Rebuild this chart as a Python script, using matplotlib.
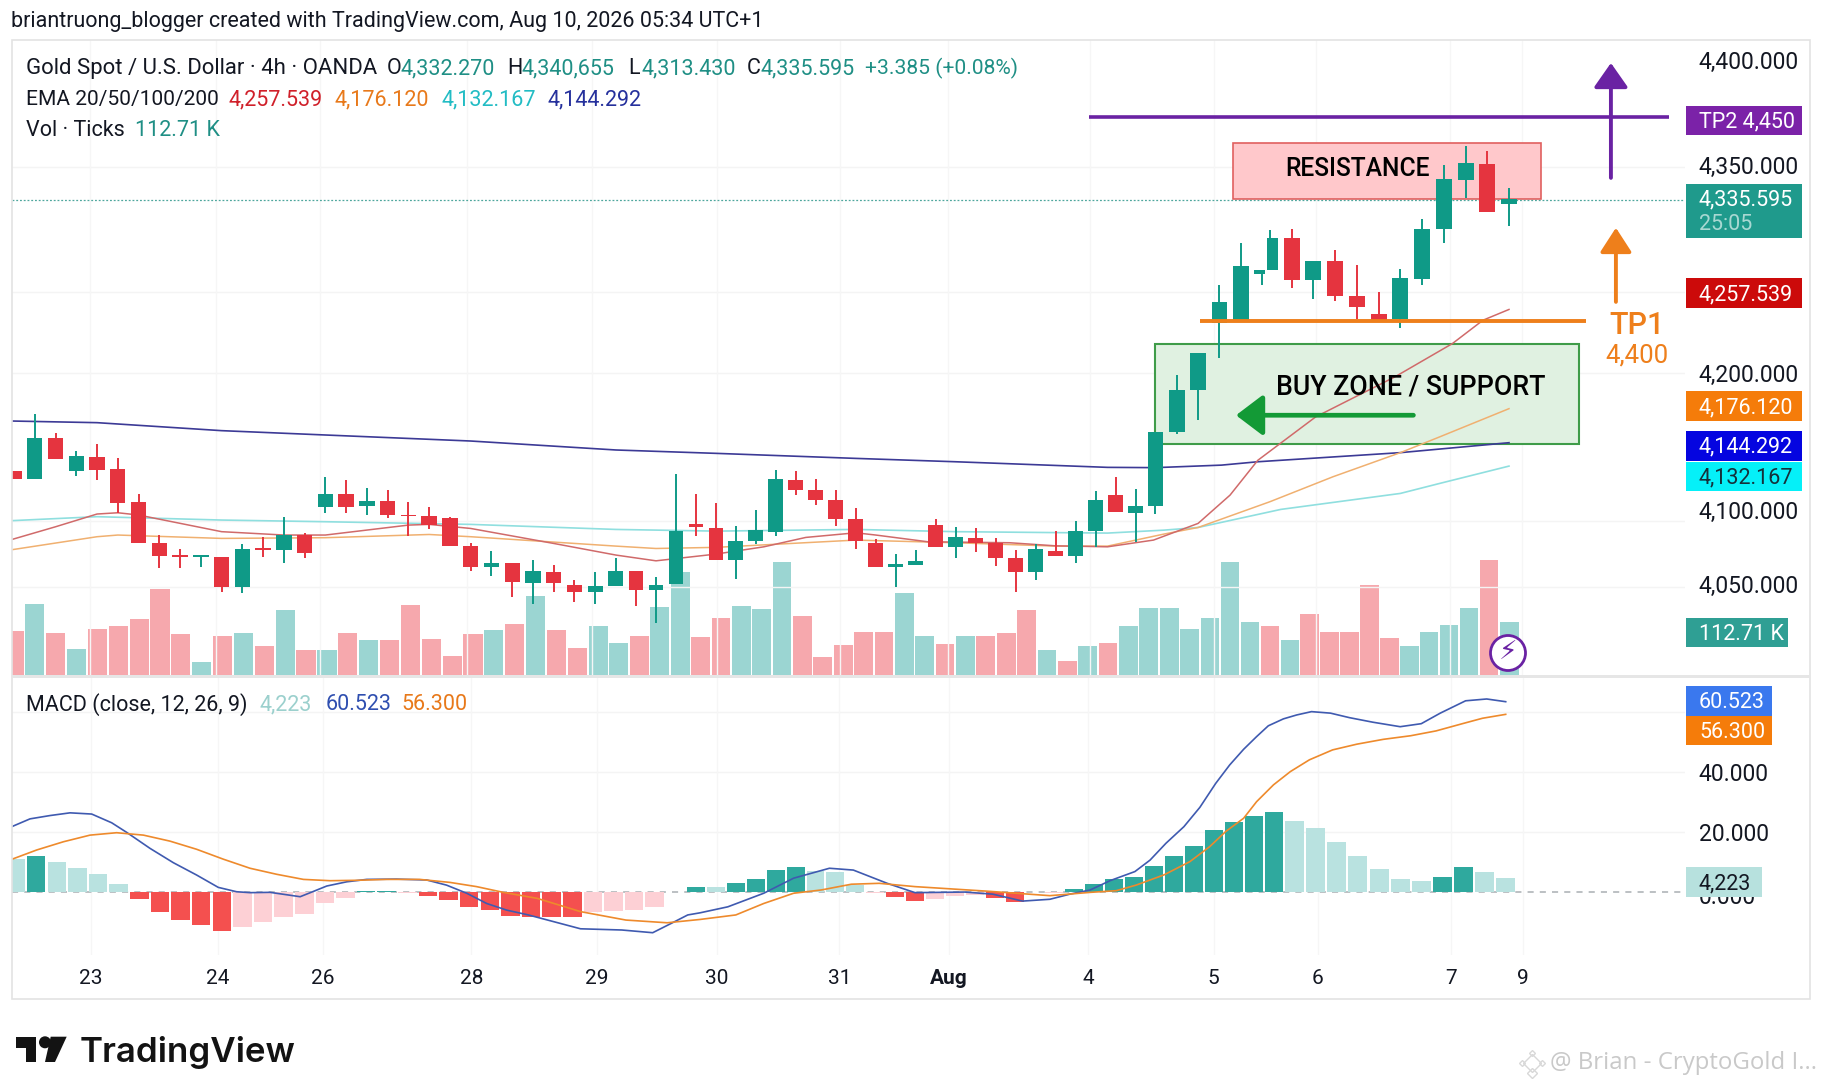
import matplotlib
matplotlib.use('Agg')
import matplotlib.pyplot as plt
import numpy as np
from matplotlib.patches import Rectangle, Polygon, Ellipse

plt.rcParams['font.family'] = ['Roboto', 'DejaVu Sans']

# candles, one row per 4h bar
opens = [4132.8, 4126.8, 4156.4, 4132.5, 4143.0, 4134.0, 4110.4, 4081.6, 4072.3, 4071.6,
         4071.4, 4050.2, 4077.3, 4076.6, 4087.1, 4106.8, 4116.4, 4107.5, 4111.4, 4101.4,
         4100.9, 4099.2, 4079.2, 4064.5, 4066.8, 4053.0, 4060.9, 4051.1, 4046.6, 4050.9,
         4061.1, 4047.8, 4052.3, 4094.7, 4092.1, 4069.0, 4082.5, 4089.5, 4126.4, 4119.2,
         4112.3, 4098.5, 4081.6, 4064.5, 4065.9, 4094.5, 4078.5, 4084.9, 4081.4, 4070.6,
         4060.4, 4075.4, 4072.3, 4089.7, 4115.6, 4102.5, 4107.5, 4160.7, 4190.4, 4238.5,
         4240.9, 4273.1, 4276.6, 4299.0, 4269.0, 4282.6, 4257.6, 4244.7, 4241.2, 4269.7,
         4305.7, 4340.4, 4352.1, 4323.3]
highs = [4132.8, 4173.3, 4159.7, 4147.3, 4152.1, 4142.1, 4116.1, 4087.1, 4076.8, 4072.1,
         4071.4, 4080.4, 4085.4, 4100.2, 4088.7, 4128.3, 4126.1, 4120.4, 4119.2, 4110.6,
         4106.8, 4099.7, 4081.1, 4075.9, 4067.5, 4069.2, 4065.4, 4054.9, 4060.6, 4070.4,
         4061.1, 4056.8, 4130.4, 4116.6, 4109.7, 4093.5, 4104.7, 4133.5, 4132.8, 4126.8,
         4119.0, 4106.1, 4084.0, 4073.7, 4076.6, 4098.3, 4093.0, 4092.3, 4085.2, 4076.1,
         4080.6, 4090.2, 4097.1, 4118.3, 4128.7, 4119.9, 4160.9, 4201.2, 4217.3, 4265.9,
         4295.2, 4275.9, 4304.7, 4305.2, 4282.8, 4290.2, 4279.5, 4260.7, 4276.9, 4312.3,
         4351.2, 4365.0, 4360.9, 4334.5]
lows = [4126.8, 4126.8, 4141.4, 4129.5, 4126.4, 4102.5, 4081.4, 4063.3, 4063.7, 4064.5,
        4046.8, 4045.9, 4071.6, 4067.3, 4070.6, 4102.5, 4102.5, 4101.6, 4099.2, 4086.4,
        4091.4, 4079.2, 4061.6, 4057.8, 4043.0, 4037.8, 4046.1, 4039.5, 4037.8, 4050.9,
        4036.6, 4024.5, 4052.3, 4086.1, 4069.2, 4055.9, 4080.6, 4086.6, 4115.6, 4108.3,
        4093.7, 4077.3, 4064.2, 4050.2, 4065.9, 4078.7, 4070.6, 4075.2, 4065.2, 4046.1,
        4055.2, 4072.1, 4067.5, 4078.7, 4103.3, 4082.3, 4101.8, 4159.0, 4169.0, 4213.1,
        4240.9, 4265.4, 4276.6, 4263.1, 4255.4, 4254.2, 4241.2, 4240.4, 4235.2, 4265.4,
        4295.7, 4327.3, 4317.8, 4307.8]
closes = [4126.8, 4156.4, 4141.4, 4143.5, 4133.7, 4110.2, 4081.4, 4072.1, 4071.6, 4072.1,
          4050.2, 4077.3, 4076.6, 4087.1, 4074.5, 4116.6, 4107.3, 4111.6, 4101.6, 4100.4,
          4094.5, 4079.2, 4064.5, 4067.3, 4053.5, 4061.1, 4052.8, 4046.6, 4050.9, 4061.4,
          4047.8, 4051.6, 4090.2, 4092.5, 4069.2, 4082.8, 4090.4, 4126.8, 4119.2, 4112.1,
          4098.7, 4083.0, 4064.2, 4066.4, 4068.3, 4078.7, 4085.6, 4081.1, 4070.6, 4060.6,
          4076.8, 4072.1, 4089.9, 4111.8, 4103.3, 4107.8, 4160.9, 4190.4, 4217.3, 4253.5,
          4279.2, 4275.9, 4299.0, 4269.0, 4282.8, 4257.8, 4249.7, 4240.4, 4270.2, 4305.7,
          4341.2, 4352.3, 4317.8, 4326.6]

volume = [94, 152, 90, 57, 99, 106, 119, 183, 88, 30, 85, 90, 64, 139, 55, 55, 90, 75, 76, 150,
          77, 43, 89, 97, 110, 168, 97, 58, 105, 70, 83, 145, 219, 82, 122, 146, 140, 239, 125, 40,
          66, 93, 93, 175, 83, 67, 83, 83, 90, 139, 55, 32, 64, 70, 104, 142, 142, 98, 121, 239,
          114, 104, 76, 130, 93, 93, 192, 80, 62, 92, 108, 143, 243, 112.71]
# 1 = teal volume bar, 0 = pink volume bar
vol_up = [0, 1, 0, 1, 0, 0, 0, 0, 0, 1, 0, 1, 0, 1, 0, 1, 0, 1, 0, 0,
          0, 0, 0, 1, 0, 1, 0, 0, 1, 1, 0, 1, 1, 0, 0, 1, 1, 1, 0, 0,
          0, 0, 0, 1, 1, 0, 1, 0, 0, 0, 1, 0, 1, 0, 1, 1, 1, 1, 1, 1,
          1, 0, 1, 0, 0, 0, 0, 0, 1, 1, 1, 1, 0, 1]

ema20_x = [-0.2, 2, 4, 5, 6, 10, 13, 15, 19, 20, 22, 26, 29, 31, 34, 36.4, 38.5, 41, 42, 44.6, 48.7,
           51, 53.6, 55.9, 58, 59.5, 60.8, 64.1, 67.75, 70.4, 71.8, 73]
ema20 = [4083.5, 4093, 4102.1, 4103, 4101.4, 4089.5, 4087.1, 4087.1, 4094.2, 4094.7, 4091.8, 4081.1,
         4072.8, 4068.7, 4073.5, 4078.7, 4085.4, 4088.7, 4087.1, 4082.3, 4081.6, 4079.4, 4078.7,
         4083.5, 4095.4, 4115.6, 4140.4, 4171.4, 4200, 4223.8, 4240.4, 4248.1]
ema50_x = [-0.2, 4, 5, 10, 15, 20, 22, 29, 31, 34, 41, 46, 51, 53.6, 56.4, 58, 62, 64.9, 68, 69.8, 73]
ema50 = [4076.4, 4085.9, 4087.1, 4084.7, 4085.2, 4087.5, 4085.9, 4079.2, 4077.5, 4078.3, 4083.5,
         4081.6, 4079.2, 4079.2, 4087.8, 4092.5, 4110.9, 4128.7, 4145.9, 4157.1, 4177.3]
ema100_x = [-0.2, 4, 10, 15, 22, 29, 34, 41, 46, 53.6, 56.4, 58, 62.5, 68, 69.8, 73]
ema100 = [4097.3, 4100.2, 4097.8, 4096.6, 4094.7, 4091.1, 4089.9, 4091.1, 4089.5, 4088.5,
          4090.6, 4092.5, 4105.4, 4116.8, 4123.9, 4136.3]
ema200_x = [-0.2, 4, 10, 15, 22, 29, 34, 41, 46, 53.6, 56, 59.1, 60.8, 68, 73]
ema200 = [4168.5, 4167.3, 4161.6, 4158.5, 4154.2, 4147.8, 4145.4, 4141.8, 4139.4, 4135.4, 4135.2,
          4137, 4139.4, 4145.9, 4153]

hist = [11.0, 12.1, 10, 8.1, 6.1, 2.8, -2.2, -6.4, -9.2, -10.7, -12.7, -11.4, -9.9, -8.2, -7.2,
        -3.5, -1.8, 0.4, 0.4, -0.1, -1.1, -2.7, -4.8, -6.0, -8.0, -8.1, -8.2, -8.2, -6.5, -6.2,
        -5.8, -4.7, 0.1, 1.9, 1.7, 3.1, 4.5, 7.3, 8.4, 7.0, 6.9, 2.3, -0.1, -1.4, -2.8, -2.3,
        -1.2, -0.9, -2.0, -3.3, 0, -0.1, 1.0, 2.8, 4.4, 5.1, 8.7, 12.1, 15.5, 20.6, 23.4, 25.2,
        26.6, 23.7, 21.2, 16.7, 12.1, 7.9, 4.3, 3.7, 5.1, 8.3, 6.6, 4.8]
hist_dark = ('0' '1' '0000' '11111' '000000' '11' '0' '11111111' '0000' '0' '1' '0' '1111' '000' '0'
             '11' '000' '11' '00' '11111111111' '0000000' '11' '00')

macd_x = [-0.19, 0.7, 1.67, 2.64, 3.69, 4.66, 5.39, 6.52, 7.65, 8.78, 9.83, 10.72, 11.37, 12.34, 13.15,
          13.8, 14.44, 15.09, 16.06, 17.03, 18.48, 19.94, 20.9, 21.88, 22.85, 23.82, 24.87, 27.4, 29.4,
          30.9, 31.8, 32.6, 33.2, 34.6, 36.4, 37.9, 39.7, 40.9, 42.6, 44, 46.5, 47.9, 49.4, 50.77, 51.8,
          52.8, 53.8, 55.04, 55.8, 56.6, 57.5, 58.3, 59.1, 59.8, 60.5, 61.15, 61.74, 62.47, 63.1, 63.8,
          64.7, 65.6, 66.7, 68, 69, 69.9, 71.1, 72.1, 73]
macd = [21.8, 24.4, 25.5, 26.4, 26, 23.1, 19.9, 14.6, 9.85, 5.75, 1.65, 0.2, -0.1, 0, -0.8,
        -1.45, 0.3, 2.1, 3.5, 4.3, 4.4, 4.1, 2.4, -0.3, -3.7, -5.9, -7.5, -12.1, -12.5,
        -13.4, -10.3, -7.5, -6.8, -4.8, -0.3, 4.7, 8.0, 7.4, 3.0, -0.1, 0.1, -0.6, -2.9, -2.3, -0.55,
        0.8, 3.9, 6.9, 10.7, 16.3, 21.8, 28.2, 36.2, 42.3, 47.5, 51.7, 55.3, 57.6, 58.9, 60,
        59.5, 58, 56.5, 55, 56, 59.5, 63.6, 64.2, 63.3]
signal_x = [-0.19, 1.02, 2.32, 3.61, 4.9, 6.2, 7.49, 8.78, 10.08, 11.37, 12.66, 13.96, 15.25, 16.54, 18,
            19.6, 21.07, 22.36, 23.65, 25.3, 27.4, 29.6, 31.6, 33.2, 35, 36.4, 37.9, 39.3, 40.8, 42.2,
            44, 47.6, 50.77, 51.8, 52.8, 54.1, 55.1, 56.5, 57.8, 58.8, 59.6, 60.5, 61.15, 62, 62.8, 63.7,
            64.8, 65.95, 67.2, 68.5, 69.7, 71, 71.9, 73]
signal = [10.96, 14.06, 16.8, 19, 19.8, 19, 17, 14.3, 11, 8, 6, 4.3, 3.87, 4, 4.3,
          4.3, 3.3, 1.9, 0, -2, -6.4, -9.2, -10.1, -9.0, -7.5, -3.7, -0.3, 0.8, 2.7, 3,
          1.9, 0.4, -1.1, -0.55, 0, 0.55, 2.4, 5.8, 10.2, 15.2, 20.2, 24.6, 30.1, 35.7, 40.1, 44,
          47.3, 49.2, 50.8, 52, 53.6, 56.1, 57.8, 59.1]

price_ticks = [4425.8, 4351.5, 4203, 4105, 4052]
price_tick_labels = ['4,400.000', '4,350.000', '4,200.000', '4,100.000', '4,050.000']
price_grid = [4350, 4260.8, 4202.7, 4097, 4050]
macd_ticks = [40, 20, -1]
macd_tick_labels = ['40.000', '20.000', '0.000']
macd_grid = [60, 40, 20]
date_ticks = [3.66, 9.82, 14.9, 22.1, 28.2, 34.05, 40.2, 45.7, 52.7, 59.0, 64.1, 70.4, 73.8]
date_labels = ['23', '24', '26', '28', '29', '30', '31', 'Aug', '4', '5', '6', '7', '9']
main_grid_x = [3.68, 9.74, 14.76, 21.8, 27.84, 34.05, 40.2, 45.6, 52.7, 58.75, 64.1, 70.3, 73.63]

last_price = 4326.0
tp1_level = 4239.7
tp2_level = 4385.5

W, H = 1824, 1088
GREEN, RED = '#0f9a87', '#e5343f'
fig = plt.figure(figsize=(W / 100, H / 100), dpi=100)


def px_axes(left, top, right, bottom):
    return fig.add_axes([left / W, 1 - bottom / H, (right - left) / W, (bottom - top) / H])


def warp(ax, idx_knots, px_knots, left, right):
    # bars in the screenshot are not evenly spaced, so x runs through a piecewise scale
    fwd = lambda v: np.interp(v, idx_knots, px_knots)
    inv = lambda v: np.interp(v, px_knots, idx_knots)
    ax.set_xscale('function', functions=(fwd, inv))
    ax.set_xlim(inv(left), inv(right))


def fig_text(px, py, s, **kw):
    kw.setdefault('va', 'center')
    kw.setdefault('fontsize', 15.5)
    return fig.text(px / W, 1 - py / H, s, **kw)


def fig_rect(l, t, r, b, **kw):
    p = Rectangle((l / W, 1 - b / H), (r - l) / W, (b - t) / H, transform=fig.transFigure, **kw)
    fig.add_artist(p)
    return p


def tag(l, t, r, b, s, color, tc='white', tx=None):
    fig_rect(l, t, r, b, facecolor=color, edgecolor='none', zorder=20)
    fig_text(tx if tx else l + 13, (t + b) / 2 + 1.5, s, color=tc, zorder=21)


L, R = 12, 1685
# pane, volume goes underneath the price axes
ax_vol = px_axes(L, 40, R, 676)
ax = px_axes(L, 40, R, 676)
ax_m = px_axes(L, 677, R, 955)
for a in (ax_vol, ax, ax_m):
    for s in a.spines.values():
        s.set_visible(False)
ax_vol.set_zorder(1)
ax.set_zorder(2)
ax.patch.set_alpha(0)
ax_m.patch.set_alpha(0)

idx_all = np.arange(len(opens))
warp(ax, [-10, 0, 29, 56, 61, 62, 73, 100], [-195.4, 14, 616, 1155.5, 1262, 1270, 1509, 2070.6], L, R)
warp(ax_vol, [-10, 0, 29, 58, 73, 100], [-195, 14, 619, 1210, 1509, 2070], L, R)
warp(ax_m, [-10, 0, 33, 62, 73, 100], [-190, 15.6, 696, 1273.5, 1505.7, 2075], L, R)

ax.set_ylim(3986.5, 4440.4)
ax_vol.set_ylim(0, 636 * 2.1)
ax_m.set_ylim(-20.8, 71.5)

# grid
ax.set_xticks(main_grid_x)
ax.tick_params(axis='x', length=0, labelbottom=False)
ax.grid(axis='x', color='#f6f6f6', lw=1)
ax.hlines(price_grid, ax.get_xlim()[0], ax.get_xlim()[1], color='#f4f4f4', lw=1, zorder=0)
ax.set_axisbelow(True)
ax_vol.set_xticks([])
ax_vol.set_yticks([])

# volume
vol_colors = ['#9bd5d2' if u else '#f6a8ad' for u in vol_up]
ax_vol.bar(idx_all, volume, width=0.92, color=vol_colors, linewidth=0)

# zones behind the candles
ax.add_patch(Rectangle((59.62, 4326.6), 14.94, 40, facecolor='#ffc8cb', edgecolor='#e0605f', lw=1.2, zorder=1))
ax.add_patch(Rectangle((56, 4151.9), 20.37, 71.4, facecolor='#e0f1e1', edgecolor='#3f9c49', lw=1.5, zorder=1))

# emas
ax.plot(ema200_x, ema200, color='#3c3a96', lw=1.2, zorder=2)
ax.plot(ema100_x, ema100, color='#8fdfdf', lw=1.2, zorder=2)
ax.plot(ema50_x, ema50, color='#f0b070', lw=1.1, zorder=2)
ax.plot(ema20_x, ema20, color='#d06a6a', lw=1.1, zorder=2)

# candles
o, h, l, c = map(np.array, (opens, highs, lows, closes))
up = c >= o
cols = np.where(up, GREEN, RED)
ax.vlines(idx_all, l, h, color=cols, lw=1.4, zorder=3)
ax.bar(idx_all, np.maximum(np.abs(c - o), 0.9), bottom=np.minimum(o, c), width=0.74,
       color=cols, linewidth=0, zorder=4)

# last price line
ax.axhline(last_price, color='#4ea79d', lw=0.9, ls=(0, (1.5, 1.5)), zorder=3)

# hand drawn levels and arrows
ax.plot([58.1, 76.7], [tp1_level, tp1_level], color='#ee7f1b', lw=2.8, zorder=5, solid_capstyle='butt')
ax.plot([52.67, 80.7], [tp2_level, tp2_level], color='#6a22a3', lw=2.6, zorder=5, solid_capstyle='butt')


def arrow(x0, y0, x1, y1, color, lw, head_w, head_l):
    ax.annotate('', xy=(x1, y1), xytext=(x0, y0), zorder=6,
                arrowprops=dict(arrowstyle='-|>,head_width=%f,head_length=%f' % (head_w, head_l),
                                color=color, lw=lw, shrinkA=0, shrinkB=0, mutation_scale=10))


arrow(68.6, 4172.6, 59.78, 4172.6, '#139a36', 3.4, 1.25, 1.65)
arrow(78.14, 4253.5, 78.14, 4306.4, '#ee7f1b', 2.8, 0.97, 1.5)
arrow(77.9, 4342, 77.9, 4424, '#6a22a3', 2.8, 1.05, 1.5)

note = dict(fontweight='medium', color='black', ha='center', va='center', zorder=7)
ax.text(66.05, 4348.5, 'RESISTANCE', fontsize=17.7, **note)
ax.text(68.5, 4192.8, 'BUY ZONE / SUPPORT', fontsize=19.3, **note)
ax.text(79.15, 4237, 'TP1', color='#ee7f1b', ha='center', va='center', fontsize=22, fontweight='medium', zorder=7)
ax.text(79.15, 4215.4, '4,400', color='#ee7f1b', ha='center', va='center', fontsize=18.5, zorder=7)

# right axis labels
for a, ticks, labels in ((ax, price_ticks, price_tick_labels), (ax_m, macd_ticks, macd_tick_labels)):
    a.yaxis.tick_right()
    a.set_yticks(ticks)
    a.set_yticklabels(labels, fontsize=16.5, color='#131722')
    a.tick_params(axis='y', length=0, pad=10)

# macd pane
hist_cols = []
for v, d in zip(hist, hist_dark):
    if v >= 0:
        hist_cols.append('#2fa99e' if d == '1' else '#b9e2e0')
    else:
        hist_cols.append('#f4504f' if d == '1' else '#fdd0d5')
ax_m.set_xticks(date_ticks)
ax_m.set_xticklabels(date_labels, fontsize=15, color='#131722')
ax_m.get_xticklabels()[7].set_fontweight('bold')
ax_m.tick_params(axis='x', length=0, pad=10)
ax_m.grid(axis='x', color='#f6f6f6', lw=1)
ax_m.set_axisbelow(True)
ax_m.hlines(macd_grid, ax_m.get_xlim()[0], ax_m.get_xlim()[1], color='#f4f4f4', lw=1, zorder=0)
ax_m.axhline(0, color='#a9afb3', lw=1.1, ls=(0, (4, 4)), zorder=1)
ax_m.bar(idx_all, hist, width=0.9, color=hist_cols, linewidth=0, zorder=2)
ax_m.plot(macd_x, macd, color='#3f5ab0', lw=1.2, zorder=3)
ax_m.plot(signal_x, signal, color='#ee8a2c', lw=1.2, zorder=3)

# frame
fig_rect(12, 40, 1810, 999, facecolor='none', edgecolor='#e3e3e3', lw=1.2, zorder=15)
fig_rect(12, 675, 1810, 677.5, facecolor='#e6e6e6', edgecolor='none', zorder=15)

# header and legends
fig_text(11, 21, 'briantruong_blogger created with TradingView.com, Aug 10, 2026 05:34 UTC+1', color='#131722')
DARK = '#131722'
TEAL = '#1f8f85'
fig_text(26, 68.5, 'Gold Spot / U.S. Dollar · 4h · OANDA', color=DARK, fontsize=15.9, zorder=12)
fig_text(26, 100, 'EMA 20/50/100/200', color=DARK, fontsize=15.1, zorder=12)
fig_text(865, 68.5, '+3.385 (+0.08%)', color=TEAL, fontsize=15.1, zorder=12)
row1 = [(387, 'O', DARK), (401, '4,332.270', TEAL),
        (507, 'H', DARK), (522, '4,340,655', TEAL), (628, 'L', DARK), (642, '4,313.430', TEAL),
        (747, 'C', DARK), (761, '4,335.595', TEAL)]
row2 = [(229, '4,257.539', '#d0202a'), (335, '4,176.120', '#e8791a'),
        (442, '4,132.167', '#22bcc4'), (548, '4,144.292', '#25309c')]
row3 = [(26, 'Vol · Ticks', DARK), (135, '112.71 K', TEAL)]
row4 = [(26, 'MACD (close, 12, 26, 9)', DARK), (259, '4,223', '#9bd0cd'), (326, '60.523', '#2f4fb0'),
        (401, '56.300', '#e8791a')]
for py, row in ((68.5, row1), (100, row2), (130, row3), (705, row4)):
    for px, s, col in row:
        fig_text(px, py, s, color=col, zorder=12)

# price tags
tag(1686, 106, 1802, 135, 'TP2 4,450', '#7b22a8', tx=1699)
tag(1686, 184, 1802, 238, '', '#1f9a8c')
fig_text(1699, 200, '4,335.595', color='white', zorder=21)
fig_text(1699, 225, '25:05', color='#a8d8d2', zorder=21)
tag(1686, 278, 1802, 308, '4,257.539', '#cc0a0a')
tag(1686, 391, 1802, 421, '4,176.120', '#f57c0a')
tag(1686, 431, 1802, 460.5, '4,144.292', '#0505e0')
tag(1686, 462, 1802, 491, '4,132.167', '#05f0f8', tc='#15303a')
tag(1686, 618, 1788, 647, '112.71 K', '#2f9f94')
tag(1686, 686, 1772, 716, '60.523', '#3a78ee', tx=1699)
tag(1686, 716, 1772, 745, '56.300', '#f57c0a', tx=1699)
tag(1686, 867, 1762, 897, '4,223', '#b7e1de', tc='#131722', tx=1699)

# lightning badge
fig.add_artist(Ellipse((1508 / W, 1 - 653 / H), 35 / W, 35 / H, transform=fig.transFigure,
                       facecolor='white', edgecolor='#6a22a3', lw=2, zorder=12))
fig_text(1508, 653, '⚡', family='DejaVu Sans', color='#6a22a3', fontsize=19, ha='center', zorder=13)

# tradingview logo
logo = '#131313'
for pts in ([(16, 1036.7), (36, 1036.7), (36, 1062), (26, 1062), (26, 1047.7), (16, 1047.7)],
            [(50.7, 1036.7), (66.7, 1036.7), (55, 1062), (45, 1062)]):
    fig.add_artist(Polygon([(x / W, 1 - y / H) for x, y in pts], transform=fig.transFigure, facecolor=logo, edgecolor='none'))
fig.add_artist(Ellipse((45 / W, 1 - 1042.3 / H), 12 / W, 12 / H, transform=fig.transFigure, facecolor=logo, edgecolor='none'))
fig_text(80, 1062, 'TradingView', family='Inter', color=logo, fontsize=25.2, fontweight='semibold', va='baseline')

# watermark
for dx, dy, size in ((0, 0, 9), (-10, 0, 3), (10, 0, 3), (0, -10, 3), (0, 10, 5)):
    fig.add_artist(plt.Line2D([(1532 + dx) / W], [1 - (1063 + dy) / H], marker='D', ms=size, mfc='none', mec='#d8d8d8',
                              mew=1, transform=fig.transFigure))
fig_text(1550, 1063, '@ Brian - CryptoGold I...', family='Open Sans', color='#c9c9c9', fontsize=17.3)

fig.savefig('out.png', dpi=100, facecolor='white')
